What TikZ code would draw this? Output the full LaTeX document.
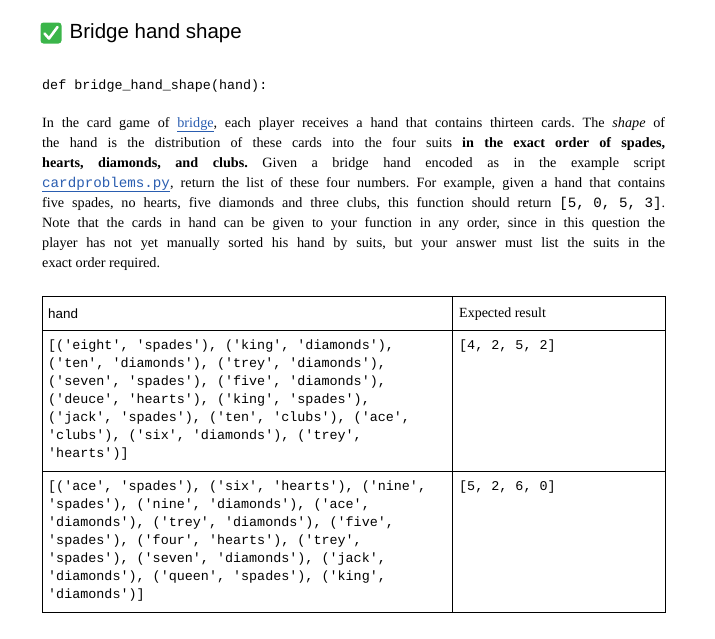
\documentclass[tikz,border=0pt]{standalone}
\usepackage{fontspec}
\setmainfont{Liberation Serif}
\setsansfont{Liberation Sans}
\setmonofont{Liberation Mono}
\definecolor{linkblue}{HTML}{2A5DB0}
\definecolor{checkgreen}{HTML}{3BB54A}
\newcommand{\lnk}[1]{\textcolor{linkblue}{\underline{#1}}}
\tikzset{
 code/.style={anchor=north west,inner sep=0pt,align=left,font=\fontsize{13.4}{18}\selectfont\ttfamily},
 cell/.style={draw=black,line width=0.8pt}
}
\begin{document}
\frenchspacing
\begin{tikzpicture}[x=1pt,y=-1pt]
\useasboundingbox (0,0) rectangle (715,638);
% check icon
\node[fill=checkgreen,rounded corners=3pt,minimum size=21pt,inner sep=0pt] (chk) at (51,33) {};
\draw[white,line width=2.6pt,line cap=round,line join=round] (44.5,33.5) -- (49,38.5) -- (57.5,27);
\node[anchor=west,inner sep=0pt,font=\fontsize{20.5}{24}\selectfont\sffamily] (title) at (69.5,33) {Bridge hand shape};
\node[anchor=west,inner sep=0pt,font=\fontsize{13.4}{16}\selectfont\ttfamily] (def) at (42,86) {def bridge\_hand\_shape(hand):};
\node[anchor=north west,inner sep=0pt,text width=623pt,align=justify,font=\fontsize{14.2}{20}\selectfont\frenchspacing] (para) at (42,117) {%
In the card game of \lnk{bridge}, each player receives a hand that contains thirteen cards. The \textit{shape} of\linebreak
the hand is the distribution of these cards into the four suits \textbf{in the exact order of spades,}\linebreak
\textbf{hearts, diamonds, and clubs.} Given a bridge hand encoded as in the example script\linebreak
\lnk{\texttt{cardproblems.py}}, return the list of these four numbers. For example, given a hand that contains\linebreak
five spades, no hearts, five diamonds and three clubs, this function should return \texttt{[5, 0, 5, 3]}.\linebreak
Note that the cards in hand can be given to your function in any order, since in this question the\linebreak
player has not yet manually sorted his hand by suits, but your answer must list the suits in the\linebreak
exact order required.};
% table
\draw[cell] (42,296) rectangle (665,612);
\draw[cell] (452,296) -- (452,612);
\draw[cell] (42,330) -- (665,330);
\draw[cell] (42,471) -- (665,471);
\node[anchor=west,inner sep=0pt,font=\fontsize{13.4}{16}\selectfont\sffamily] (h1) at (48,314) {hand};
\node[anchor=west,inner sep=0pt,font=\fontsize{14}{16}\selectfont] (h2) at (459,314) {Expected result};
\node[code] (c1) at (48,340) {[('eight', 'spades'), ('king', 'diamonds'),\\('ten', 'diamonds'), ('trey', 'diamonds'),\\('seven', 'spades'), ('five', 'diamonds'),\\('deuce', 'hearts'), ('king', 'spades'),\\('jack', 'spades'), ('ten', 'clubs'), ('ace',\\'clubs'), ('six', 'diamonds'), ('trey',\\'hearts')]};
\node[code] (r1) at (459,340) {[4, 2, 5, 2]};
\node[code] (c2) at (48,481) {[('ace', 'spades'), ('six', 'hearts'), ('nine',\\'spades'), ('nine', 'diamonds'), ('ace',\\'diamonds'), ('trey', 'diamonds'), ('five',\\'spades'), ('four', 'hearts'), ('trey',\\'spades'), ('seven', 'diamonds'), ('jack',\\'diamonds'), ('queen', 'spades'), ('king',\\'diamonds')]};
\node[code] (r2) at (459,481) {[5, 2, 6, 0]};
\end{tikzpicture}
\end{document}
